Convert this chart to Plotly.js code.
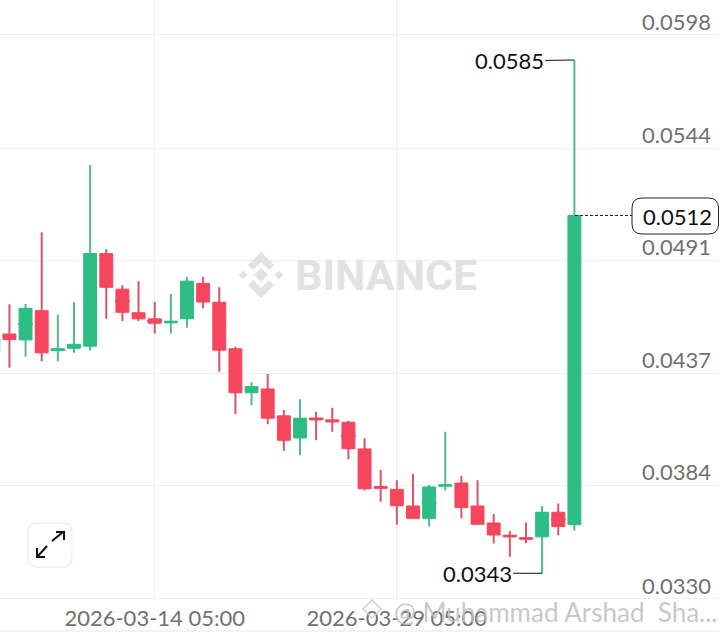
<!DOCTYPE html>
<html><head><meta charset="utf-8">
<script src="https://cdn.plot.ly/plotly-3.0.1.min.js"></script>
<style>html,body{margin:0;padding:0;background:#fff;overflow:hidden}#c{width:719px;height:636px}</style>
</head><body><div id="c"></div>
<script>
const dates=["2026-03-04","2026-03-05","2026-03-06","2026-03-07","2026-03-08","2026-03-09","2026-03-10","2026-03-11","2026-03-12","2026-03-13","2026-03-14","2026-03-15","2026-03-16","2026-03-17","2026-03-18","2026-03-19","2026-03-20","2026-03-21","2026-03-22","2026-03-23","2026-03-24","2026-03-25","2026-03-26","2026-03-27","2026-03-28","2026-03-29","2026-03-30","2026-03-31","2026-04-01","2026-04-02","2026-04-03","2026-04-04","2026-04-05","2026-04-06","2026-04-07","2026-04-08","2026-04-09"].map(d=>d+" 05:00");
const open=[.04474,.04559,.04531,.04670,.04480,.04491,.04501,.04941,.04772,.04660,.04631,.04612,.04632,.04800,.04710,.04489,.04280,.04298,.04170,.04065,.04160,.04151,.04140,.04013,.03834,.03821,.03742,.03683,.03836,.03851,.03742,.03661,.03603,.03591,.03595,.03712,.03653];
const high=[.04540,.04700,.04702,.05043,.04650,.04710,.05362,.04962,.04791,.04810,.04711,.04749,.04830,.04830,.04781,.04499,.04330,.04369,.04198,.04249,.04189,.04208,.04147,.04064,.03913,.03864,.03894,.03842,.04094,.03885,.03864,.03704,.03623,.03663,.03742,.03753,.05861];
const low=[.04474,.04399,.04451,.04430,.04430,.04470,.04480,.04632,.04621,.04621,.04561,.04561,.04589,.04681,.04380,.04179,.04220,.04130,.04003,.03983,.04054,.04095,.03964,.03815,.03762,.03652,.03683,.03644,.03815,.03683,.03655,.03563,.03501,.03565,.03422,.03603,.03625];
const close=[.04540,.04532,.04681,.04470,.04489,.04510,.04941,.04781,.04662,.04631,.04610,.04620,.04810,.04711,.04482,.04280,.04309,.04159,.04054,.04159,.04151,.04141,.04014,.03824,.03826,.03743,.03683,.03832,.03842,.03734,.03655,.03604,.03595,.03584,.03712,.03644,.05122];
const yTickVals=[.0330,.0384,.0437,.0491,.0544,.0598];
const yTickText=["0.0330","0.0384","0.0437","0.0491","0.0544","0.0598"];
const xTickVals=["2026-03-14 05:00","2026-03-29 05:00"];
const xTickText=["2026-03-14 05:00","2026-03-29 05:00"];
const FONT="Lato, sans-serif";
const GREEN="#2EBD85",RED="#F6465D",GREEN_WICK="#56b795",RED_WICK="#d4566a",GRID="#f0f0f0";
const last=dates.length-1;
const iLow=low.indexOf(Math.min(...low));
const PH=600;
const pxPath=(s,o)=>Object.assign({type:"path",xref:"paper",yref:"paper",xsizemode:"pixel",ysizemode:"pixel",xanchor:0,yanchor:1,path:s},o);
const P=(x,y)=>x+","+(-y);
const rrect=(x0,y0,x1,y1,r)=>`M${P(x0+r,y0)} L${P(x1-r,y0)} Q${P(x1,y0)} ${P(x1,y0+r)} L${P(x1,y1-r)} Q${P(x1,y1)} ${P(x1-r,y1)} L${P(x0+r,y1)} Q${P(x0,y1)} ${P(x0,y1-r)} L${P(x0,y0+r)} Q${P(x0,y0)} ${P(x0+r,y0)} Z`;
const diamond=(cx,cy,r)=>`M${P(cx,cy-r)} L${P(cx+r,cy)} L${P(cx,cy+r)} L${P(cx-r,cy)} Z`;
const LOGO="#e2e2e2";
const shapes=[
 {type:"line",xref:"paper",yref:"paper",x0:0,x1:1,y0:-31/PH,y1:-31/PH,line:{color:"#e8e8e8",width:1}},
 pxPath(rrect(28,523,72,567,9),{fillcolor:"#fff",line:{color:"#eeeeee",width:1.5}}),
 pxPath(`M${P(52,541)} L${P(63,532)} M${P(56,532)} L${P(64,532)} L${P(64,540)} M${P(47,546)} L${P(38,556)} M${P(37,548)} L${P(37,557)} L${P(45,557)}`,{line:{color:"#111",width:2}}),
 pxPath(rrect(632,198,718.5,234,10),{fillcolor:"#fff",line:{color:"#222",width:1}}),
 pxPath(`M${P(575,215.5)} L${P(632,215.5)}`,{line:{color:"#222",width:1,dash:"3px,2px"}}),
 pxPath(diamond(261,275,7),{fillcolor:LOGO,line:{width:0}}),
 pxPath(diamond(243,275,4.5),{fillcolor:LOGO,line:{width:0}}),
 pxPath(diamond(279,275,4.5),{fillcolor:LOGO,line:{width:0}}),
 pxPath(`M${P(261,252)} L${P(274,265)} L${P(269,270)} L${P(261,262)} L${P(253,270)} L${P(248,265)} Z`,{fillcolor:LOGO,line:{width:0}}),
 pxPath(`M${P(261,298)} L${P(274,285)} L${P(269,280)} L${P(261,288)} L${P(253,280)} L${P(248,285)} Z`,{fillcolor:LOGO,line:{width:0}}),
 pxPath(diamond(372,609,9),{fillcolor:"rgba(0,0,0,0)",line:{color:"#d0d0d0",width:1.5}}),
];
const annotations=[
 {xref:"paper",yref:"paper",x:293/719,y:1-275/PH,xanchor:"left",yanchor:"middle",showarrow:false,text:"<b>BINANCE</b>",font:{family:"Roboto, sans-serif",size:43,color:LOGO}},
 {xref:"paper",yref:"paper",x:392/719,y:1-612/PH,xanchor:"left",yanchor:"middle",showarrow:false,text:"@ Muhammad Arshad  Sha...",font:{family:FONT,size:26,color:"rgba(190,190,190,0.85)"}},
 {xref:"paper",yref:"paper",x:1,xshift:-5,y:1-216.5/PH,xanchor:"right",yanchor:"middle",showarrow:false,text:close[last].toFixed(4),font:{family:FONT,size:22,color:"#111"}},
 {x:dates[last],y:high[last],ax:-65,ay:1,axref:"pixel",ayref:"pixel",showarrow:true,arrowhead:0,arrowwidth:1,arrowcolor:"#111",text:"0.0585",font:{family:FONT,size:22,color:"#111"}},
 {x:dates[iLow],y:low[iLow],ax:-65,ay:0,axref:"pixel",ayref:"pixel",showarrow:true,arrowhead:0,arrowwidth:1,arrowcolor:"#111",text:"0.0343",font:{family:FONT,size:22,color:"#111"}},
];
const bodyTop=open.map((o,i)=>Math.max(o,close[i]));
const bodyBottom=open.map((o,i)=>Math.min(o,close[i]));
const bodyMid=bodyTop.map((t,i)=>(t+bodyBottom[i])/2);
// Wicks sit underneath; the bodies are drawn over them with a thin outline.
const wickOpen=bodyMid.map((m,i)=>close[i]>=open[i]?m:m+1e-7);
const wickClose=bodyMid.map((m,i)=>close[i]>=open[i]?m+1e-7:m);
Plotly.newPlot("c",[{
 type:"candlestick",x:dates,open:wickOpen,high,low,close:wickClose,
 whiskerwidth:0,
 increasing:{line:{color:GREEN_WICK,width:2},fillcolor:GREEN_WICK},
 decreasing:{line:{color:RED_WICK,width:2},fillcolor:RED_WICK},
 hoverinfo:"skip"
},{
 type:"candlestick",x:dates,open,high:bodyTop,low:bodyBottom,close,
 whiskerwidth:0,
 increasing:{line:{color:GREEN,width:1},fillcolor:GREEN},
 decreasing:{line:{color:RED,width:1},fillcolor:RED},
 hoverinfo:"skip"
}],{
 width:719,height:636,margin:{l:0,r:0,t:0,b:636-PH,pad:0},
 paper_bgcolor:"#fff",plot_bgcolor:"#fff",showlegend:false,boxmode:"overlay",boxgap:0.2,boxgroupgap:0,
 shapes,annotations,
 xaxis:{type:"date",range:["2026-03-04 15:00","2026-04-18 04:00"],rangeslider:{visible:false},
  tickmode:"array",tickvals:xTickVals,ticktext:xTickText,showgrid:true,gridcolor:GRID,gridwidth:1,zeroline:false,showline:false,ticks:"",
  tickfont:{family:FONT,size:22,color:"#707070"},ticklabelstandoff:3},
 yaxis:{side:"right",range:[.03295,.06146],tickmode:"array",tickvals:yTickVals,ticktext:yTickText,showgrid:true,gridcolor:GRID,gridwidth:1,zeroline:false,showline:false,ticks:"",
  ticklabelposition:"inside",ticklabelshift:-13,ticklabelstandoff:5,tickfont:{family:FONT,size:22,color:"#707070"}},
 font:{family:FONT}
},{staticPlot:true,displayModeBar:false});
</script></body></html>
